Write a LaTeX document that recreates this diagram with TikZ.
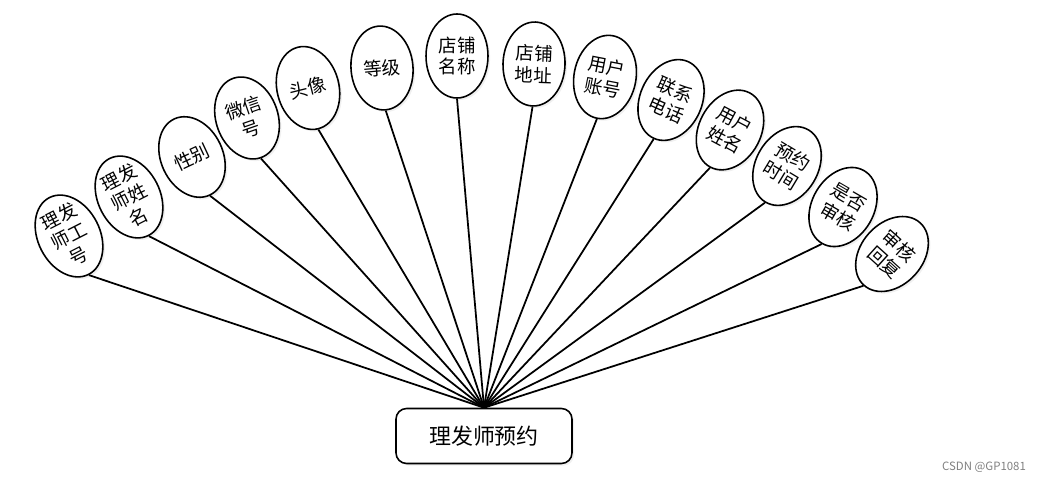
\documentclass[tikz,border=0pt]{standalone}
\usepackage{fontspec}
\setmainfont{Noto Sans CJK SC}
\usetikzlibrary{shapes.geometric,shadows}

\begin{document}
\begin{tikzpicture}[x=0.02cm,y=-0.02cm,
	attr/.style={ellipse,draw,line width=0.9pt,fill=white,
		minimum width=1.24cm,minimum height=1.68cm,inner sep=0pt,
		align=center,font=\fontsize{10.5}{12.5}\selectfont,
		drop shadow={opacity=0.12,shadow xshift=1.2pt,shadow yshift=-1.2pt}},
	entity/.style={rectangle,draw,line width=0.9pt,fill=white,rounded corners=6pt,
		minimum width=3.52cm,minimum height=1.1cm,
		font=\fontsize{12.5}{14}\selectfont,
		drop shadow={opacity=0.12,shadow xshift=1.2pt,shadow yshift=-1.2pt}},
	link/.style={line width=1pt}]

	\useasboundingbox (0,0) rectangle (1043,482);

	\node[entity] (yy) at (484,436) {理发师预约};
	\coordinate (hub) at (yy.north);

	\node[attr,rotate=27] (gh) at (69,236) {理发\\师工\\号};
	\node[attr,rotate=27] (xm) at (129,197) {理发\\师姓\\名};
	\node[attr,rotate=25] (xb) at (192,157) {性别};
	\node[attr,rotate=19] (wx) at (247,118) {微信\\号};
	\node[attr,rotate=14] (tx) at (308,88) {头像};
	\node[attr,rotate=5] (dj) at (382,68) {等级};
	\node[attr] (dm) at (457,56) {店铺\\名称};
	\node[attr,rotate=-2] (dz) at (534,64) {店铺\\地址};
	\node[attr,rotate=-11] (zh) at (605,77) {用户\\账号};
	\node[attr,rotate=-24] (dh) at (671,100) {联系\\电话};
	\node[attr,rotate=-28] (yx) at (730,130) {用户\\姓名};
	\node[attr,rotate=-31] (sj) at (787,166) {预约\\时间};
	\node[attr,rotate=-30] (sh) at (843,207) {是否\\审核};
	\node[attr,rotate=-42] (hf) at (892,254) {审核\\回复};

	\foreach \a in {gh,xm,xb,wx,tx,dj,dm,dz,zh,dh,yx,sj,sh,hf}
		\draw[link] (hub) -- (\a.south);

	\node[text=gray,font=\fontsize{6.5}{7}\selectfont] (wm) at (984,467) {CSDN @GP1081};

\end{tikzpicture}
\end{document}
